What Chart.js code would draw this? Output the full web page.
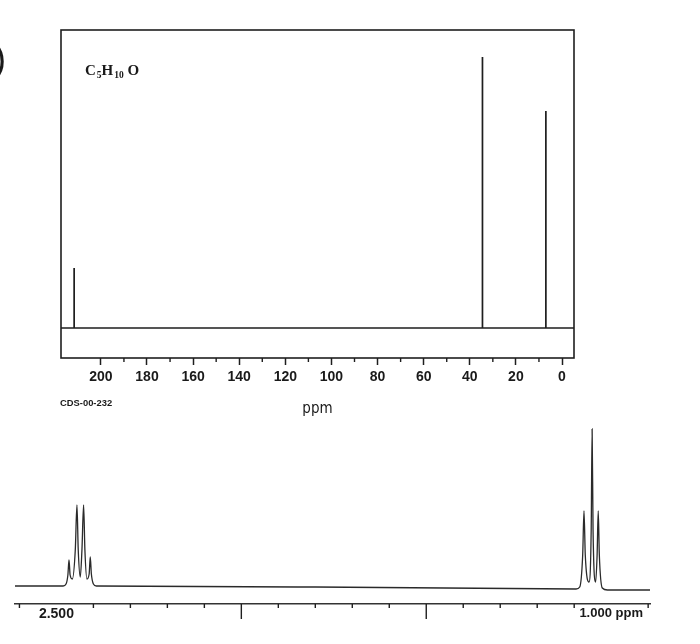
<!DOCTYPE html>
<html>
<head>
<meta charset="utf-8">
<script src="https://cdn.jsdelivr.net/npm/chart.js@4.4.0/dist/chart.umd.min.js"></script>
<style>
  html, body { margin: 0; padding: 0; background: #fff; }
  body { width: 700px; height: 644px; position: relative; overflow: hidden; }
  canvas { position: absolute; left: 0; }
  #c13 { top: 0; }
  #h1 { top: 400px; }
  .note { position: absolute; color: #1a1a1a; white-space: nowrap; }
  #formula { left: 85px; top: 62px; font: bold 15px "Liberation Serif", serif; }
  #formula sub { font-size: 9.5px; vertical-align: -3px; margin-left: 1px; }
  #code { left: 60px; top: 397px; font: bold 9.4px "Liberation Sans", sans-serif; }
  #paren { left: -6px; top: 38px; font: 36px "Liberation Sans", sans-serif; }
</style>
</head>
<body>
<canvas id="c13" width="700" height="430"></canvas>
<canvas id="h1" width="700" height="244"></canvas>
<div class="note" id="paren">)</div>
<div class="note" id="formula">C<sub>5</sub>H<sub>10</sub> O</div>
<div class="note" id="code">CDS-00-232</div>
<script>
// 13C spectrum (top box), ppm runs right to left
const c13Range = [-5.2, 217.3];
const c13PeakPpm = [211.6, 34.5, 7.0];
const c13PeakHeight = [60, 271, 217];
const c13LabelTicks = [0, 20, 40, 60, 80, 100, 120, 140, 160, 180, 200];
const c13MinorTicks = [10, 30, 50, 70, 90, 110, 130, 150, 170, 190];

// 1H spectrum (bottom trace): quartet near 2.44, triplet near 1.05
const h1Range = [0.895, 2.612];
const h1Ppm = [2.612, 2.482, 2.474, 2.469, 2.466, 2.463, 2.457, 2.449, 2.4445, 2.441, 2.4355,
  2.431, 2.4265, 2.423, 2.4175, 2.4115, 2.4085, 2.4055, 2.400, 2.392, 1.800,
  1.095, 1.085, 1.077, 1.0735, 1.070, 1.060, 1.054, 1.0515, 1.049, 1.042,
  1.038, 1.035, 1.032, 1.024, 1.010, 0.895];
const h1Intensity = [4, 4, 6, 15, 30, 15, 11, 40, 85, 40, 13,
  40, 85, 40, 11, 16, 33, 16, 6, 4, 3,
  1, 3, 35, 79, 35, 8, 60, 161, 60, 8,
  35, 79, 35, 2, 0, 0];
const h1Ticks = [2.6, 2.5, 2.4, 2.3, 2.2, 2.1, 2.0, 1.9, 1.8, 1.7, 1.6, 1.5, 1.4, 1.3, 1.2, 1.1, 1.0, 0.9];
const h1LongTicks = [2.0, 1.5];
const h1LabelPpm = [2.5, 1.0];
const h1LabelText = ['2.500', '1.000 ppm'];

const ink = '#1e1e1e';
const near = (a, b) => Math.abs(a - b) < 1e-6;

function tickMarks(values, lengthFor) {
  return {
    id: 'tickMarks',
    afterDraw(chart) {
      const x = chart.scales.x, ctx = chart.ctx;
      ctx.save();
      ctx.strokeStyle = ink;
      ctx.lineWidth = 1.4;
      values.forEach(v => {
        const len = lengthFor(v);
        if (!len) return;
        const px = x.getPixelForValue(v);
        ctx.beginPath();
        ctx.moveTo(px, x.top);
        ctx.lineTo(px, x.top + len);
        ctx.stroke();
      });
      ctx.restore();
    }
  };
}

const boxFrame = {
  id: 'boxFrame',
  afterDraw(chart) {
    const a = chart.chartArea, ctx = chart.ctx;
    ctx.save();
    ctx.strokeStyle = ink;
    ctx.lineWidth = 1.6;
    ctx.strokeRect(a.left, a.top, a.right - a.left, a.bottom - a.top);
    ctx.restore();
  }
};

const c13Points = [{ x: c13Range[1], y: 0 }];
c13PeakPpm.forEach((p, i) => {
  c13Points.push({ x: p, y: 0 }, { x: p, y: c13PeakHeight[i] }, { x: p, y: 0 });
});
c13Points.push({ x: c13Range[0], y: 0 });

new Chart(document.getElementById('c13'), {
  type: 'line',
  data: { datasets: [{ data: c13Points, borderColor: ink, borderWidth: 1.7, pointRadius: 0, tension: 0 }] },
  options: {
    responsive: false, animation: false, events: [],
    layout: { padding: { left: 61, right: 126, top: 30, bottom: 12 } },
    plugins: { legend: { display: false }, tooltip: { enabled: false } },
    scales: {
      x: {
        type: 'linear', reverse: true, min: c13Range[0], max: c13Range[1],
        afterBuildTicks: s => { s.ticks = c13LabelTicks.map(v => ({ value: v })); },
        afterFit: s => { s.height = 60; },
        border: { display: false },
        grid: { display: true, drawOnChartArea: false, drawTicks: true, tickLength: 7, tickWidth: 1.5, tickColor: ink },
        ticks: {
          padding: 4, autoSkip: false, maxRotation: 0, color: '#1a1a1a',
          font: { family: 'Liberation Sans', size: 14, weight: 'bold' },
          callback: v => String(v)
        },
        title: {
          display: true, text: 'ppm', color: '#1a1a1a', padding: 0,
          font: { family: '"Liberation Sans Narrow", "DejaVu Sans Condensed", "Liberation Sans"', size: 15 }
        }
      },
      y: { display: false, min: -30, max: 298 }
    }
  },
  plugins: [boxFrame, tickMarks(c13MinorTicks, () => 4)]
});

new Chart(document.getElementById('h1'), {
  type: 'line',
  data: {
    datasets: [{
      data: h1Ppm.map((p, i) => ({ x: p, y: h1Intensity[i] })),
      borderColor: '#2a2a2a', borderWidth: 1.3, pointRadius: 0, cubicInterpolationMode: 'monotone'
    }]
  },
  options: {
    responsive: false, animation: false, events: [],
    layout: { padding: { left: 15, right: 50, top: 20, bottom: 10 } },
    plugins: { legend: { display: false }, tooltip: { enabled: false } },
    scales: {
      x: {
        type: 'linear', reverse: true, min: h1Range[0], max: h1Range[1],
        afterBuildTicks: s => { s.ticks = h1Ticks.map(v => ({ value: v })); },
        afterFit: s => { s.height = 30; },
        border: { display: true, color: '#333', width: 1.4 },
        grid: { display: true, drawOnChartArea: false, drawTicks: false },
        ticks: {
          padding: 2, autoSkip: false, maxRotation: 0, color: '#1a1a1a',
          font: ctx => ({ family: 'Liberation Sans', weight: 'bold', size: ctx.tick && ctx.tick.value > 2 ? 14 : 13 }),
          callback: v => {
            const i = h1LabelPpm.findIndex(p => near(p, v));
            return i < 0 ? '' : h1LabelText[i];
          }
        }
      },
      y: { display: false, min: -14, max: 170 }
    }
  },
  plugins: [tickMarks(h1Ticks, v => {
    if (h1LabelPpm.some(p => near(p, v))) return 0;
    return h1LongTicks.some(p => near(p, v)) ? 15 : 4;
  })]
});
</script>
</body>
</html>
